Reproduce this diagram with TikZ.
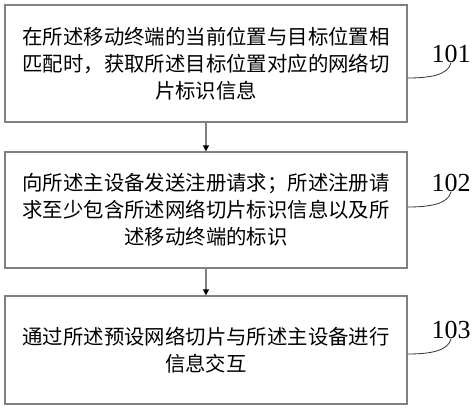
\documentclass[tikz,border=0pt]{standalone}
\usepackage{fontspec}
\setmainfont{Liberation Serif}
\newfontfamily\cjk{Noto Sans CJK SC}
\usetikzlibrary{arrows.meta}
\begin{document}
\begin{tikzpicture}[x=1pt,y=-1pt,
  stepbox/.style={draw=gray, line width=1.3pt, rectangle, inner sep=0pt, minimum width=402pt, align=center,
    font=\cjk\fontsize{20.4}{27}\selectfont},
  flow/.style={draw=gray, line width=1.3pt, -{Triangle[black,length=6pt,width=6pt]}},
  lbl/.style={font=\fontsize{26}{26}\selectfont, inner sep=0pt},
  lead/.style={draw=black!80, line width=0.8pt}]
\useasboundingbox (0,0) rectangle (474,410);
\node[stepbox, minimum height=117pt] (b1) at (206,63.5) {在所述移动终端的当前位置与目标位置相\\匹配时，获取所述目标位置对应的网络切\\片标识信息};
\node[stepbox, minimum height=116pt] (b2) at (206,210) {向所述主设备发送注册请求；所述注册请\\求至少包含所述网络切片标识信息以及所\\述移动终端的标识};
\node[stepbox, minimum height=108pt] (b3) at (206,350) {通过所述预设网络切片与所述主设备进行\\信息交互};
\draw[flow] (b1.south) -- (b2.north);
\draw[flow] (b2.south) -- (b3.north);
\node[lbl] (l1) at (451,54) {101};
\node[lbl] (l2) at (451,183) {102};
\node[lbl] (l3) at (451,330) {103};
\coordinate (s1) at (b1.east |- 0,78);
\coordinate (s2) at (b2.east |- 0,207);
\coordinate (s3) at (b3.east |- 0,354);
\draw[lead] (s1) .. controls (430,78) and (448,75) .. (l1.south);
\draw[lead] (s2) .. controls (430,207) and (448,204) .. (l2.south);
\draw[lead] (s3) .. controls (430,354) and (448,351) .. (l3.south);
\end{tikzpicture}
\end{document}
